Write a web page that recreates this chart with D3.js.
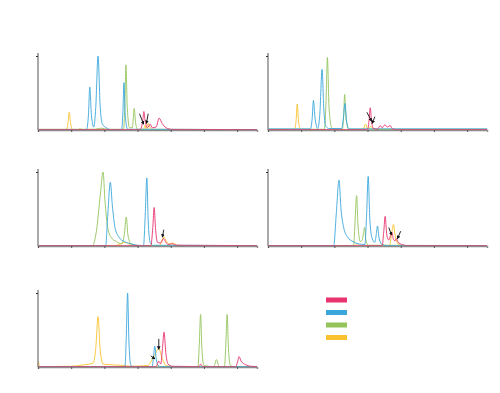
<!DOCTYPE html>
<html>
<head>
<meta charset="utf-8">
<script src="https://cdn.jsdelivr.net/npm/d3@7"></script>
<style>
  body { margin: 0; background: #fff; }
  svg { display: block; }
</style>
</head>
<body>
<div id="chart"></div>
<script>
const width = 500;
const height = 393;

// series colours (legend order)
const seriesNames = ["pink", "blue", "green", "yellow"];
const colors = { pink: "#e8336f", blue: "#3aa6dc", green: "#94c45a", yellow: "#f9c22e" };

// time axis (min) and relative signal (%)
const timeDomain = [0, 33];
const xTicks = [0, 5, 10, 15, 20, 25, 30];

// ---- panel 1 ----
const p1Pink = [[0,0.5],[15.4,0.5],[15.8,14],[15.95,25],[16.15,12],[16.5,3],[16.9,8],[17.2,3],[17.8,4],[18.25,16],[18.7,9],[19.3,3],[20.2,0.8],[33,0.5]];
const p1Blue = [[0,0.5],[7.3,0.5],[7.6,20],[7.8,58],[8.05,20],[8.4,4],[8.7,30],[9.05,100],[9.35,35],[9.7,8],[10.3,3],[11,0.5],[12.6,0.5],[12.8,25],[12.95,64],[13.15,20],[13.5,1],[33,0.5]];
const p1Green = [[0,1],[8.5,1],[9.5,2.5],[10.5,1],[12.9,1],[13.1,40],[13.25,88],[13.45,30],[13.8,3],[14.2,3],[14.35,15],[14.5,29],[14.7,10],[15,1],[33,0.5]];
const p1Yellow = [[0,0.5],[4.3,0.5],[4.55,12],[4.7,24],[4.9,10],[5.2,0.5],[6.1,0.5],[6.3,2],[6.6,0.5],[15.9,0.5],[16.1,6],[16.3,2],[16.6,9],[16.9,3],[17.3,0.5],[33,0.5]];
const p1Arrows = [[15.3,22,15.9,8],[16.6,22,16.35,9]];

// ---- panel 2 ----
const p2Pink = [[0,0.5],[15.0,0.5],[15.25,15],[15.4,30],[15.6,12],[15.9,2],[16.5,1],[16.9,6],[17.2,3],[17.6,7],[18.0,4],[18.4,6],[18.8,1],[19.5,0.5],[33,0.5]];
const p2Blue = [[0,1.5],[6.4,1.5],[6.65,15],[6.85,40],[7.1,15],[7.5,2],[7.8,20],[8.15,82],[8.4,30],[8.7,5],[9.2,2],[11.1,2],[11.35,15],[11.6,36],[11.85,12],[12.2,1.5],[33,1.5]];
const p2Green = [[0,1],[8.5,1],[8.75,40],[8.95,98],[9.2,30],[9.6,3],[10.0,1],[11.2,1],[11.4,20],[11.55,48],[11.75,15],[12.2,1],[33,1]];
const p2Yellow = [[0,0.5],[4.0,0.5],[4.25,15],[4.4,35],[4.6,12],[4.9,0.5],[14.3,0.5],[14.7,8],[15.0,2],[15.5,5],[15.9,0.5],[33,0.5]];
const p2Arrows = [[14.9,24,15.6,12],[16.1,18,15.7,9]];

// ---- panel 3 ----
const p3Pink = [[0,0.5],[17.0,0.5],[17.3,25],[17.5,52],[17.7,25],[18.0,5],[18.5,4],[18.9,10],[19.2,6],[19.6,2],[20.3,3],[20.8,1],[33,0.5]];
const p3Blue = [[0,0.5],[10.2,0.5],[10.5,40],[10.9,86],[11.2,55],[11.6,25],[12.2,12],[13,6],[14,3],[15,1],[15.9,0.5],[16.15,40],[16.4,92],[16.6,35],[16.9,5],[17.3,1],[33,0.5]];
const p3Green = [[0,0.5],[8.2,0.5],[8.8,20],[9.4,70],[9.8,100],[10.1,60],[10.5,25],[11,12],[11.8,6],[12.6,3],[13.0,15],[13.3,39],[13.55,15],[14,3],[14.6,1],[15.5,0.5],[33,0.5]];
const p3Yellow = [[0,0.5],[11.5,0.5],[12.5,3],[13.2,5],[13.8,2],[14.5,0.5],[18.3,0.5],[18.7,8],[19.0,12],[19.3,7],[19.8,3],[20.3,4],[21,1],[22,0.5],[33,0.5]];
const p3Arrows = [[18.95,22,18.75,12]];

// ---- panel 4 ----
const p4Pink = [[0,0.5],[17.2,0.5],[17.45,20],[17.65,40],[17.9,15],[18.2,8],[18.45,14],[18.65,19],[18.9,9],[19.15,7],[19.35,10],[19.6,5],[20.2,2],[21,0.5],[33,0.5]];
const p4Blue = [[0,0.5],[9.9,0.5],[10.3,45],[10.7,89],[11.0,50],[11.4,25],[12,12],[12.8,6],[13.6,3],[14.6,2],[14.85,40],[15.1,94],[15.35,35],[15.7,10],[16.1,5],[16.3,15],[16.5,27],[16.75,10],[17.2,2],[18,0.5],[33,0.5]];
const p4Green = [[0,0.5],[12.9,0.5],[13.1,30],[13.35,68],[13.55,30],[13.9,6],[14.2,8],[14.35,15],[14.55,25],[14.75,8],[15.1,1],[33,0.5]];
const p4Yellow = [[0,0.5],[13.0,0.5],[13.4,3],[13.8,0.5],[18.3,0.5],[18.6,15],[18.9,29],[19.2,12],[19.6,3],[20.3,0.5],[33,0.5]];
const p4Arrows = [[18.2,25,18.6,15],[20.0,20,19.5,10]];

// ---- panel 5 ----
const p5Pink = [[0,0.5],[17.8,0.5],[18.2,8],[18.5,4],[18.75,25],[19,47],[19.25,20],[19.6,4],[20.2,1],[24.3,0.5],[24.5,4],[24.8,0.5],[29.8,0.5],[30.1,8],[30.3,14],[30.6,8],[31.3,3],[32,1],[33,0.5]];
const p5Blue = [[0,0.5],[13.1,0.5],[13.3,40],[13.5,100],[13.7,35],[14,2],[14.5,0.5],[17.2,0.5],[17.45,18],[17.6,28],[17.8,12],[18.1,2],[18.6,0.5],[33,0.5]];
const p5Green = [[0,0.5],[24.1,0.5],[24.3,30],[24.5,71],[24.7,25],[25,2],[26.5,0.5],[26.9,10],[27.3,0.5],[28.1,0.5],[28.3,30],[28.5,71],[28.7,25],[29,2],[29.5,0.5],[33,0.5]];
const p5Yellow = [[0,0.5],[0.05,8],[0.2,0.5],[5,1],[7,3],[8.3,5],[8.7,25],[9.05,68],[9.35,25],[9.8,4],[11,3],[13,2],[14,1],[16.5,2],[17.5,15],[18.2,25],[18.7,12],[19.3,2],[20.5,0.5],[33,0.5]];
const p5Arrows = [[18.2,38,18.2,24],[17.0,15,17.6,11]];

const panels = [
  { x: 38,  y: 130, series: { pink: p1Pink, blue: p1Blue, green: p1Green, yellow: p1Yellow }, arrows: p1Arrows },
  { x: 268, y: 130, series: { pink: p2Pink, blue: p2Blue, green: p2Green, yellow: p2Yellow }, arrows: p2Arrows },
  { x: 38,  y: 246, series: { pink: p3Pink, blue: p3Blue, green: p3Green, yellow: p3Yellow }, arrows: p3Arrows },
  { x: 268, y: 246, series: { pink: p4Pink, blue: p4Blue, green: p4Green, yellow: p4Yellow }, arrows: p4Arrows },
  { x: 38,  y: 367, series: { pink: p5Pink, blue: p5Blue, green: p5Green, yellow: p5Yellow }, arrows: p5Arrows }
];

const svg = d3.select("#chart").append("svg")
  .attr("width", width)
  .attr("height", height);

svg.append("defs").append("marker")
  .attr("id", "head")
  .attr("viewBox", "0 0 10 10")
  .attr("refX", 8).attr("refY", 5)
  .attr("markerWidth", 4).attr("markerHeight", 4)
  .attr("orient", "auto")
  .append("path")
  .attr("d", "M0,0L10,5L0,10z")
  .attr("fill", "#111");

const panelW = 219;
const panelH = 74;

const x = d3.scaleLinear().domain(timeDomain).range([0, panelW]);
const y = d3.scaleLinear().domain([0, 100]).range([0, -panelH]);

const line = d3.line()
  .x(d => x(d[0]))
  .y(d => y(d[1]))
  .curve(d3.curveMonotoneX);

panels.forEach(p => {
  const g = svg.append("g").attr("transform", `translate(${p.x},${p.y})`);

  // traces (yellow at the back, pink on top)
  ["yellow", "green", "blue", "pink"].forEach(name => {
    g.append("path")
      .datum(p.series[name])
      .attr("d", line)
      .attr("fill", "none")
      .attr("stroke", colors[name])
      .attr("stroke-width", 1)
      .attr("stroke-opacity", 0.9);
  });

  // arrows marking peaks
  g.selectAll(".arrow")
    .data(p.arrows)
    .enter().append("line")
    .attr("x1", d => x(d[0])).attr("y1", d => y(d[1]))
    .attr("x2", d => x(d[2])).attr("y2", d => y(d[3]))
    .attr("stroke", "#111")
    .attr("stroke-width", 0.9)
    .attr("marker-end", "url(#head)");

  // x axis
  const xAxis = g.append("g")
    .call(d3.axisBottom(x).tickValues(xTicks).tickSize(2).tickFormat(""));
  xAxis.select(".domain").attr("stroke", "#8c8c8c").attr("stroke-width", 1.5);
  xAxis.selectAll(".tick line").attr("stroke", "#555");

  // y axis
  const yAxis = g.append("g")
    .call(d3.axisLeft(y).tickValues([100]).tickSize(2).tickFormat(""));
  yAxis.select(".domain").attr("stroke", "#8c8c8c").attr("stroke-width", 1.5)
    .attr("d", `M0,0V${y(104)}`);
  yAxis.selectAll(".tick line").attr("stroke", "#333");
});

// legend swatches
const legend = svg.append("g").attr("transform", "translate(326,300)");
legend.selectAll("rect")
  .data(seriesNames)
  .enter().append("rect")
  .attr("x", 0)
  .attr("y", (d, i) => i * 12.5 - 2.5)
  .attr("width", 21)
  .attr("height", 5)
  .attr("fill", d => colors[d]);
</script>
</body>
</html>
